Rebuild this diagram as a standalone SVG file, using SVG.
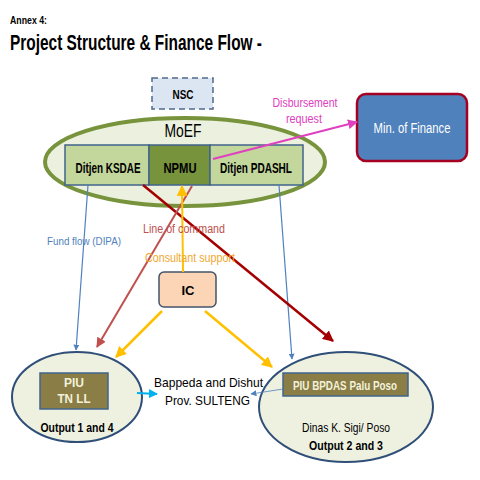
<svg xmlns="http://www.w3.org/2000/svg" width="480" height="480" viewBox="0 0 480 480">
<defs>
<style>
text{font-family:"Liberation Sans",Arial,sans-serif}
.b{font-weight:bold}
.cell{fill:#c3d69b;stroke:#41648c;stroke-width:1.5}
.piu{fill:#8a7d45;stroke:#41648c;stroke-width:1.5}
.oval{fill:#eef1e0;stroke:#2f4f78;stroke-width:2}
.blue{stroke:#4f81bd;stroke-width:1.2;fill:none}
.red1{stroke:#a50000;stroke-width:2.5;fill:none}
.red2{stroke:#c0504d;stroke-width:2;fill:none}
.yel{stroke:#ffc000;stroke-width:2.5;fill:none}
</style>
<marker id="mb" viewBox="0 0 10 10" refX="9" refY="5" markerWidth="6" markerHeight="6" markerUnits="userSpaceOnUse" orient="auto"><path d="M0,0 L10,5 L0,10 z" fill="#4f81bd"/></marker>
<marker id="mr1" viewBox="0 0 10 10" refX="9" refY="5" markerWidth="11" markerHeight="11" markerUnits="userSpaceOnUse" orient="auto"><path d="M0,0 L10,5 L0,10 z" fill="#a50000"/></marker>
<marker id="mr2" viewBox="0 0 10 10" refX="9" refY="5" markerWidth="10" markerHeight="10" markerUnits="userSpaceOnUse" orient="auto"><path d="M0,0 L10,5 L0,10 z" fill="#c0504d"/></marker>
<marker id="my" viewBox="0 0 10 10" refX="9" refY="5" markerWidth="11" markerHeight="11" markerUnits="userSpaceOnUse" orient="auto"><path d="M0,0 L10,5 L0,10 z" fill="#ffc000"/></marker>
<marker id="mp" viewBox="0 0 10 10" refX="9" refY="5" markerWidth="10" markerHeight="10" markerUnits="userSpaceOnUse" orient="auto"><path d="M0,0 L10,5 L0,10 z" fill="#e040c0"/></marker>
<marker id="mc" viewBox="0 0 10 10" refX="9" refY="5" markerWidth="9" markerHeight="9" markerUnits="userSpaceOnUse" orient="auto"><path d="M0,0 L10,5 L0,10 z" fill="#00b0f0"/></marker>
</defs>
<rect width="480" height="480" fill="#ffffff"/>

<text x="10" y="24" class="b" font-size="10" textLength="37" lengthAdjust="spacingAndGlyphs">Annex 4:</text>
<text x="10" y="50" class="b" font-size="22" textLength="252" lengthAdjust="spacingAndGlyphs">Project Structure &amp; Finance Flow  -</text>

<g id="nsc">
<rect x="152" y="78" width="61" height="31" fill="#dce6f2" stroke="#4f6a8a" stroke-width="1.5" stroke-dasharray="6,4"/>
<text x="183" y="99" class="b" font-size="13" text-anchor="middle" textLength="21" lengthAdjust="spacingAndGlyphs">NSC</text>
</g>

<g id="moef">
<ellipse cx="185" cy="162" rx="140" ry="44" fill="#ebf1de" stroke="#77933c" stroke-width="4"/>
<text x="183" y="137" font-size="18" text-anchor="middle" textLength="37" lengthAdjust="spacingAndGlyphs">MoEF</text>
</g>

<g id="ksdae">
<rect x="65" y="145" width="84" height="40" class="cell"/>
<text x="108" y="173" class="b" font-size="14" text-anchor="middle" textLength="65" lengthAdjust="spacingAndGlyphs">Ditjen KSDAE</text>
</g>
<g id="npmu">
<rect x="149" y="145" width="61" height="40" fill="#77933c" stroke="#41648c" stroke-width="1.5"/>
<text x="180" y="173" class="b" font-size="14" text-anchor="middle" textLength="33" lengthAdjust="spacingAndGlyphs">NPMU</text>
</g>
<g id="pdashl">
<rect x="210" y="145" width="93" height="40" class="cell"/>
<text x="256" y="173" class="b" font-size="14" text-anchor="middle" textLength="72" lengthAdjust="spacingAndGlyphs">Ditjen PDASHL</text>
</g>

<g id="mof">
<rect x="357" y="94" width="110" height="67" rx="9" fill="#4f81bd" stroke="#a50021" stroke-width="2.5"/>
<text x="412" y="133" font-size="14" fill="#ffffff" text-anchor="middle" textLength="77" lengthAdjust="spacingAndGlyphs">Min. of Finance</text>
</g>

<g id="ic">
<rect x="159" y="272" width="57" height="35" rx="5" fill="#fbd5b5" stroke="#44546a" stroke-width="1.5"/>
<text x="188" y="295" class="b" font-size="13" text-anchor="middle">IC</text>
</g>

<g id="piu-tnll">
<ellipse cx="77" cy="397" rx="65" ry="45" class="oval"/>
<rect x="40" y="373" width="68" height="36" class="piu"/>
<text x="74" y="387" class="b" font-size="12" fill="#f2f2dc" text-anchor="middle">PIU</text>
<text x="74" y="403" class="b" font-size="12" fill="#f2f2dc" text-anchor="middle" textLength="33" lengthAdjust="spacingAndGlyphs">TN LL</text>
<text x="77" y="432" class="b" font-size="13" text-anchor="middle" textLength="73" lengthAdjust="spacingAndGlyphs">Output 1 and 4</text>
</g>

<g id="piu-bpdas">
<ellipse cx="346" cy="407" rx="87" ry="55" class="oval"/>
<rect x="283" y="373" width="125" height="23" class="piu"/>
<text x="345" y="390" class="b" font-size="13" fill="#f2f2dc" text-anchor="middle" textLength="104" lengthAdjust="spacingAndGlyphs">PIU BPDAS Palu Poso</text>
<text x="346" y="432" font-size="13" text-anchor="middle" textLength="88" lengthAdjust="spacingAndGlyphs">Dinas K. Sigi/ Poso</text>
<text x="346" y="450" class="b" font-size="13" text-anchor="middle" textLength="74" lengthAdjust="spacingAndGlyphs">Output 2 and 3</text>
</g>

<g id="bappeda">
<text x="154" y="387" font-size="13" textLength="109" lengthAdjust="spacingAndGlyphs">Bappeda and Dishut</text>
<text x="165" y="405" font-size="13" textLength="85" lengthAdjust="spacingAndGlyphs">Prov. SULTENG</text>
</g>

<g id="connectors">
<line x1="88" y1="185" x2="76" y2="350" class="blue" marker-end="url(#mb)"/>
<line x1="279" y1="185" x2="292" y2="359" class="blue" marker-end="url(#mb)"/>
<line x1="283" y1="389" x2="251" y2="394" stroke="#4f81bd" stroke-width="0.8" marker-end="url(#mb)"/>
<line x1="143" y1="185" x2="333" y2="341" class="red1" marker-end="url(#mr1)"/>
<line x1="192" y1="186" x2="97" y2="347" class="red2" marker-end="url(#mr2)"/>
<line x1="183" y1="272" x2="182" y2="186" stroke="#ffc000" stroke-width="2" marker-end="url(#my)"/>
<line x1="162" y1="311" x2="116" y2="357" class="yel" marker-end="url(#my)"/>
<line x1="205" y1="311" x2="272" y2="367" class="yel" marker-end="url(#my)"/>
<line x1="213" y1="159" x2="357" y2="122" stroke="#e040c0" stroke-width="2" marker-end="url(#mp)"/>
<line x1="137" y1="393" x2="157" y2="394" stroke="#00b0f0" stroke-width="2" marker-end="url(#mc)"/>
<text x="47" y="245" font-size="11" fill="#4f81bd" textLength="74" lengthAdjust="spacingAndGlyphs">Fund flow  (DIPA)</text>
<text x="143" y="233" font-size="12" fill="#c0504d" textLength="82" lengthAdjust="spacingAndGlyphs">Line of command</text>
<text x="145" y="262" font-size="12" fill="#f0a830" textLength="90" lengthAdjust="spacingAndGlyphs">Consultant support</text>
<text x="305" y="107" font-size="12" fill="#e040c0" text-anchor="middle" textLength="65" lengthAdjust="spacingAndGlyphs">Disbursement</text>
<text x="304" y="123" font-size="12" fill="#e040c0" text-anchor="middle" textLength="36" lengthAdjust="spacingAndGlyphs">request</text>
</g>
</svg>
